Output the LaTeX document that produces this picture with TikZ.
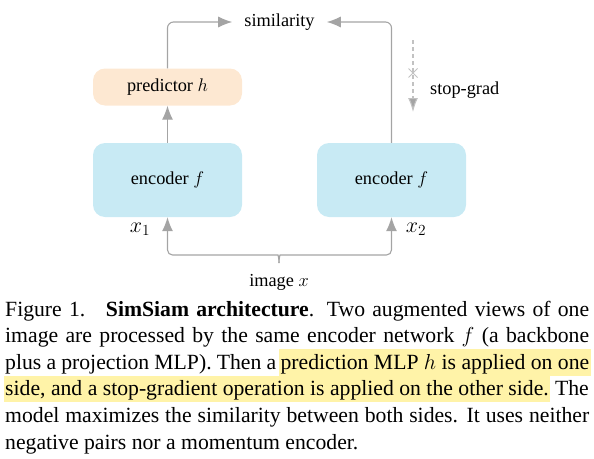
\RequirePackage{fix-cm}
\documentclass[tikz,border=0pt]{standalone}
\usepackage{fontspec}
\setmainfont{Liberation Serif}
\usetikzlibrary{arrows.meta}
\definecolor{predfill}{HTML}{FDE8D2}
\definecolor{encfill}{HTML}{C8EAF4}
\definecolor{linegray}{HTML}{A4A4A4}
\definecolor{dashgray}{HTML}{C2C2C2}
\definecolor{hlyellow}{HTML}{FFF3A8}
\begin{document}
\begin{tikzpicture}[x=1pt,y=-1pt,
  every node/.style={font=\fontsize{18.3}{22}\selectfont},
  blockbox/.style={rounded corners=12pt, minimum width=149pt, inner sep=0pt},
  predbox/.style={blockbox, fill=predfill, minimum height=37pt},
  encbox/.style={blockbox, fill=encfill, minimum height=74pt},
  garrow/.style={draw=linegray, line width=1.1pt, -{Latex[length=14pt,width=11pt]}},
  sgarrow/.style={draw=dashgray, line width=1.1pt, dash pattern=on 4pt off 3pt, -{Latex[length=14pt,width=10pt,fill=linegray]}},
  crossline/.style={draw=dashgray, line width=0.9pt},
  xlabel/.style={font=\fontsize{22}{26}\selectfont, inner sep=0pt},
  capfont/.style={font=\fontsize{21.7}{26.6}\selectfont, inner sep=0pt},
  capline/.style={capfont, anchor=base west},
  hlbox/.style={capfont, fill=hlyellow, text height=20pt, text depth=6.6pt, inner xsep=1.5pt}
]
\useasboundingbox (0,0) rectangle (594,458);

% diagram nodes
\node[predbox] (pred) at (167.5,87) {predictor $h$};
\node[encbox] (enc1) at (167.5,180) {encoder $f$};
\node[encbox] (enc2) at (391.5,180) {encoder $f$};
\node[inner xsep=12pt, inner ysep=2pt] (sim) at (279.5,22) {similarity};
\node[anchor=west, inner sep=0pt] (sg) at (430,90) {stop-grad};
\node[xlabel] (x1) at (140,229) {$x_1$};
\node[xlabel] (x2) at (416,229) {$x_2$};
\node (img) at (279,282) {image $x$};

% connectors
\draw[garrow] (enc1.north) -- (pred.south);
\draw[garrow, rounded corners=6pt] (pred.north) |- (sim.west);
\draw[garrow, rounded corners=6pt] (enc2.north) |- (sim.east);

\coordinate (sgtop) at (413,40);
\coordinate (sgbot) at (413,112);
\coordinate (cx) at (413,73);
\draw[sgarrow] (sgtop) -- (sgbot);
\draw[crossline] (cx) ++(-4.5,-4.5) -- ++(9,9);
\draw[crossline] (cx) ++(4.5,-4.5) -- ++(-9,9);

\coordinate (tip) at (279,263);
\draw[garrow, rounded corners=5pt] (tip) .. controls (279,258) and (278,255) .. (273,255) -| (enc1.south);
\draw[garrow, rounded corners=5pt] (tip) .. controls (279,258) and (280,255) .. (285,255) -| (enc2.south);

% caption
\node[capline] (l1) at (5,316) {\makebox[584pt][s]{Figure 1.\hspace{0.95em}\textbf{SimSiam architecture}. Two augmented views of one}};
\node[capline] (l2) at (5,342.6) {\makebox[584pt][s]{image are processed by the same encoder network $f$ (a backbone}};
\node[capline] (l3a) at (5,369.2) {\makebox[271pt][s]{plus a projection MLP). Then a}};
\node[hlbox, anchor=base east] (l3b) at (591,369.2) {prediction MLP $h$ is applied on one};
\node[hlbox, anchor=base west] (l4a) at (3.5,395.8) {side, and a stop-gradient operation is applied on the other side.};
\node[capline, anchor=base east] (l4b) at (589,395.8) {The};
\node[capline] (l5) at (5,422.4) {\makebox[584pt][s]{model maximizes the similarity between both sides. It uses neither}};
\node[capline] (l6) at (5,449) {negative pairs nor a momentum encoder.};
\end{tikzpicture}
\end{document}
